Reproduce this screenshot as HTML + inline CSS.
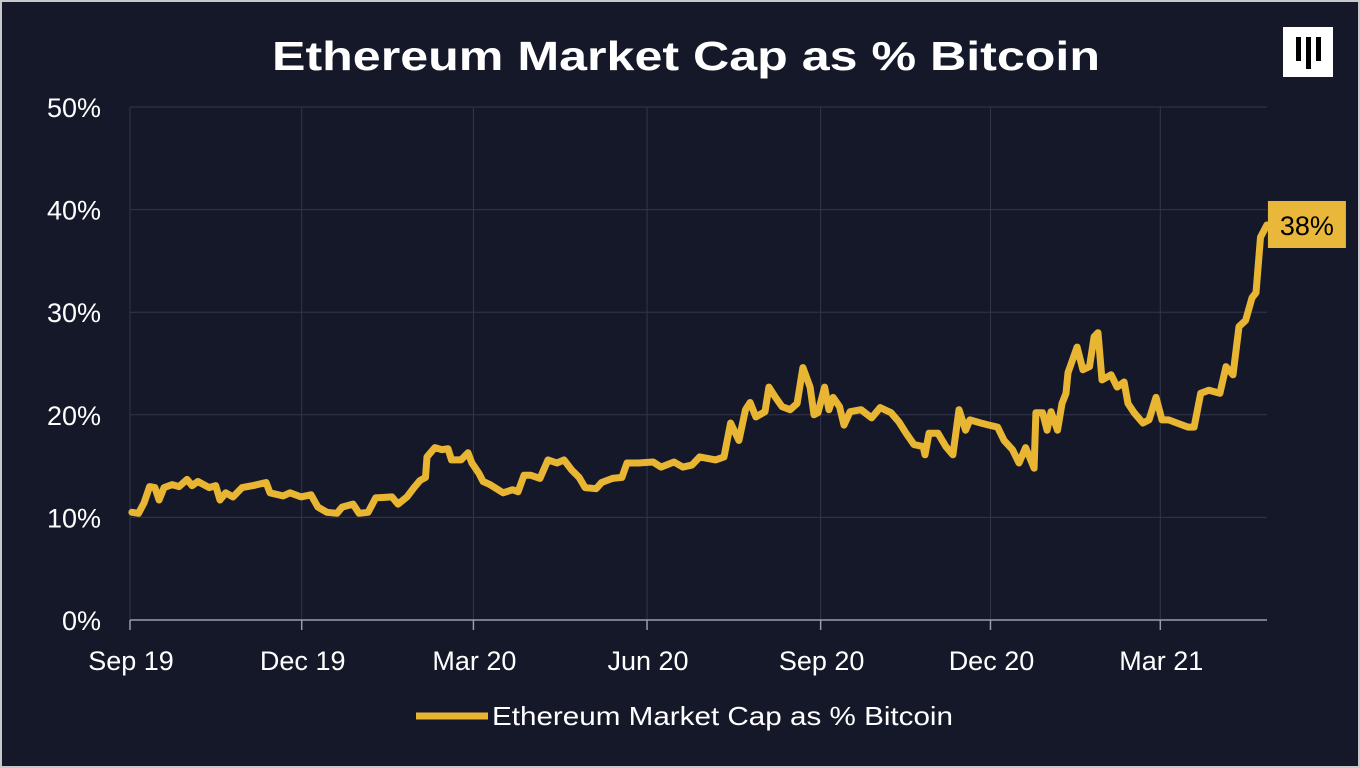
<!DOCTYPE html>
<html><head><meta charset="utf-8"><style>
html,body{margin:0;padding:0;background:#151829;}
svg{display:block;font-family:"Liberation Sans",sans-serif;}
</style></head><body>
<svg id="chart" width="1360" height="768" viewBox="0 0 1360 768">
<rect x="0" y="0" width="1360" height="768" fill="#151829"/>
<rect x="1" y="1" width="1358" height="766" fill="none" stroke="#c8c8cc" stroke-width="2"/>
<text x="686" y="70" fill="#ffffff" font-size="41" font-weight="bold" text-anchor="middle" textLength="828" lengthAdjust="spacingAndGlyphs">Ethereum Market Cap as % Bitcoin</text>
<g>
<rect x="1283" y="27" width="50" height="50" fill="#ffffff"/>
<rect x="1296" y="37" width="5" height="24" fill="#000"/>
<rect x="1306" y="37" width="5" height="32" fill="#000"/>
<rect x="1316" y="37" width="5" height="24" fill="#000"/>
</g>
<g id="grid"></g>
<g id="yaxis"></g>
<g id="xaxis"></g>
<g id="series"></g>
<g>
<line x1="416" y1="716" x2="488" y2="716" stroke="#e8b632" stroke-width="7"/>
<text x="492" y="725" fill="#ffffff" font-size="26" textLength="461" lengthAdjust="spacingAndGlyphs">Ethereum Market Cap as % Bitcoin</text>
</g>
</svg>
<script>
const dayOffsets = [1,4.5,7.4,10.4,13.2,15.4,18,22.3,26,30.2,32.9,36,41.9,45.4,47.7,50.7,54.6,59.4,65.2,72.1,74.2,81.1,84.8,90.6,95.9,99.6,104.4,109.7,112.4,118.2,121.4,126.2,130.2,138.8,142,146.8,150.5,153.7,156.6,157.4,161.6,165.3,168.5,170.4,175.4,179.1,181.2,184.9,187.1,190.8,197.7,202.8,205.6,208.8,212.5,217.3,221.5,226.3,230,234.2,238,241.2,247,249.9,255.7,260.7,263.4,269.5,277.2,281.4,288.3,293,297.8,301.9,310.3,314.8,318.3,322.7,326.2,328.6,331.7,336.5,338.6,342.1,345.5,349.8,353.5,356.6,360.4,362.5,364.6,368.1,370.4,372.6,376,378.4,381.6,387.4,393,397.5,403.3,407.5,411.3,415.5,420.3,421.3,423.4,428.2,432.4,436.1,439.3,442.8,445.1,450.8,455.2,459.8,463.2,467.7,471.1,474.6,479.1,480.1,483.6,486,488.1,491.5,493.9,496,497.1,501.9,505,508.5,510.9,513,515.1,519.9,523.1,526.8,528.9,532.1,536.8,540,543.7,546.9,550.4,554.8,560.7,563.9,567.4,571.8,577.6,580.8,584.5,587.7,591.2,594.6,596.7,599.1,602.5];
const ethPct = [10.5,10.4,11.4,13.0,12.9,11.7,12.9,13.2,13.0,13.7,13.1,13.5,12.9,13.1,11.7,12.4,12.0,12.9,13.1,13.4,12.4,12.1,12.4,12.0,12.2,11.0,10.5,10.4,11.0,11.3,10.4,10.5,11.9,12.0,11.3,12.0,12.9,13.6,13.9,15.9,16.8,16.6,16.7,15.6,15.6,16.3,15.3,14.3,13.5,13.2,12.4,12.7,12.5,14.1,14.1,13.8,15.6,15.3,15.6,14.6,13.9,12.9,12.8,13.4,13.8,13.9,15.3,15.3,15.4,14.9,15.4,14.9,15.1,15.9,15.6,15.9,19.2,17.5,20.5,21.2,19.8,20.3,22.7,21.7,20.8,20.5,21.1,24.6,22.7,20.0,20.2,22.7,20.5,21.7,20.8,19.0,20.3,20.5,19.7,20.7,20.2,19.3,18.2,17.1,16.9,16.1,18.2,18.2,16.9,16.1,20.5,18.5,19.5,19.2,19.0,18.8,17.5,16.6,15.3,16.8,14.8,20.2,20.2,18.5,20.3,18.5,21.1,22.1,24.1,26.6,24.4,24.7,27.6,28.0,23.4,23.9,22.7,23.2,21.1,20.2,19.2,19.5,21.7,19.5,19.5,19.2,18.8,18.8,22.1,22.4,22.1,24.7,23.9,28.6,29.2,31.4,31.9,37.3,38.5];
const yTicks = [0,10,20,30,40,50];
const yTickLabels = ["0%","10%","20%","30%","40%","50%"];
const xTickDays = [0,91,182,274,366,456,546];
const xTickLabels = ["Sep 19","Dec 19","Mar 20","Jun 20","Sep 20","Dec 20","Mar 21"];
const lastLabel = "38%";

const NS="http://www.w3.org/2000/svg";
const X0=130, Y0=620, PXV=10.26;
function xs(d){return X0+d*1.887;}
function ys(v){return Y0-v*PXV;}
function mk(tag,attrs,parent){const e=document.createElementNS(NS,tag);for(const k in attrs)e.setAttribute(k,attrs[k]);parent.appendChild(e);return e;}
const grid=document.getElementById('grid'), yaxis=document.getElementById('yaxis'), xaxis=document.getElementById('xaxis'), series=document.getElementById('series');
const xEnd=1267;
yTicks.forEach((t,i)=>{
  if(t>0){const l=mk('line',{x1:X0,x2:xEnd,y1:ys(t),y2:ys(t),stroke:'#33364a','stroke-width':1},grid);
  
  }
  const tx=mk('text',{x:101,y:ys(t)+10,fill:'#ffffff','font-size':27,'text-anchor':'end'},yaxis);
  tx.textContent=yTickLabels[i];
  
  
});
xTickDays.forEach((d,i)=>{
  const x=xs(d);
  const l=mk('line',{x1:x,x2:x,y1:ys(50),y2:Y0,stroke:'#33364a','stroke-width':1},grid);
  
  
  const tk=mk('line',{x1:x,x2:x,y1:Y0,y2:Y0+10,stroke:'#9a9ca8','stroke-width':1.5},xaxis);
  
  
  const tx=mk('text',{x:x+1,y:670,fill:'#ffffff','font-size':27,'text-anchor':'middle'},xaxis);
  tx.textContent=xTickLabels[i];
  
  
});
const base=mk('line',{x1:X0,x2:xEnd,y1:Y0,y2:Y0,stroke:'#9a9ca8','stroke-width':1.5},xaxis);


let dpath='';
dayOffsets.forEach((d,i)=>{dpath+=(i?'L':'M')+xs(d).toFixed(1)+','+ys(ethPct[i]).toFixed(1);});
const p=mk('path',{d:dpath,fill:'none',stroke:'#e8b632','stroke-width':7,'stroke-linejoin':'round','stroke-linecap':'round'},series);


const lastX=xs(dayOffsets[dayOffsets.length-1]), lastY=ys(ethPct[ethPct.length-1]);
const bx=mk('rect',{x:lastX+1,y:lastY-24,width:78,height:47,fill:'#e9b73a'},series);


const bt=mk('text',{x:lastX+40,y:lastY+10,fill:'#000000','font-size':27,'text-anchor':'middle'},series);
bt.textContent=lastLabel;


</script>
</body></html>
